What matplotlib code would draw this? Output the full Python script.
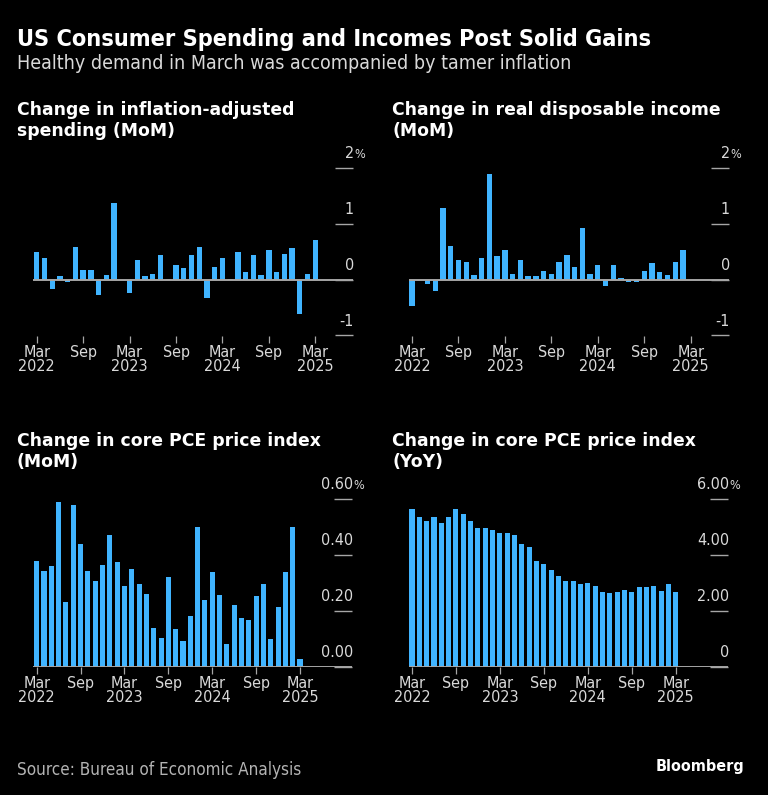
import numpy as np
import matplotlib
matplotlib.use("Agg")
import matplotlib.pyplot as plt

W, H = 768, 795
BAR = "#40b4ff"
AXIS = "#a6a6a6"
TEXT = "#d9d9d9"
NARROW = "condensed"

tick_pos = [0, 6, 12, 18, 24, 30, 36]
tick_labels = ["Mar\n2022", "Sep", "Mar\n2023", "Sep", "Mar\n2024", "Sep", "Mar\n2025"]

spending = [0.49, 0.39, -0.17, 0.07, -0.04, 0.58, 0.18, 0.17, -0.28, 0.08, 1.37, -0.01,
            -0.23, 0.35, 0.07, 0.11, 0.45, 0.02, 0.26, 0.21, 0.44, 0.58, -0.32, 0.23,
            0.39, 0.005, 0.50, 0.14, 0.44, 0.08, 0.53, 0.14, 0.46, 0.57, -0.61, 0.11, 0.71]
income = [-0.48, -0.01, -0.08, -0.20, 1.28, 0.60, 0.36, 0.32, 0.08, 0.38, 1.89, 0.43,
          0.53, 0.10, 0.35, 0.06, 0.07, 0.15, 0.10, 0.31, 0.45, 0.23, 0.93, 0.10,
          0.26, -0.12, 0.27, 0.03, -0.05, -0.05, 0.15, 0.29, 0.14, 0.08, 0.32, 0.54, np.nan]
core_mom = [0.378, 0.342, 0.361, 0.588, 0.230, 0.577, 0.440, 0.342, 0.305, 0.365, 0.471, 0.373,
            0.290, 0.348, 0.295, 0.259, 0.138, 0.103, 0.321, 0.134, 0.091, 0.183, 0.500, 0.240,
            0.339, 0.255, 0.081, 0.222, 0.173, 0.167, 0.252, 0.295, 0.098, 0.215, 0.339, 0.500, 0.029]
core_yoy = [5.65, 5.37, 5.20, 5.34, 5.13, 5.37, 5.63, 5.48, 5.23, 4.98, 4.96, 4.88,
            4.80, 4.80, 4.72, 4.38, 4.28, 3.79, 3.66, 3.45, 3.23, 3.05, 3.06, 2.95,
            2.98, 2.90, 2.67, 2.64, 2.67, 2.74, 2.67, 2.84, 2.84, 2.87, 2.71, 2.97, 2.66]

spend_ticks = [-1, 0, 1, 2]
spend_labels = ["-1", "0", "1", "2"]
mom_ticks = [0, 0.2, 0.4, 0.6]
mom_labels = ["0.00", "0.20", "0.40", "0.60"]
yoy_ticks = [0, 2, 4, 6]
yoy_labels = ["0", "2.00", "4.00", "6.00"]

plt.rcParams["font.family"] = "DejaVu Sans"
fig = plt.figure(figsize=(W / 100, H / 100), dpi=100, facecolor="black")


def px(size):
    # pixel size to points at 100 dpi
    return size * 0.72


def panel(values, title, ticks, labels, left, right, top, bottom, first, last, title_x, title_y):
    ax = fig.add_axes([left / W, 1 - bottom / H, (right - left) / W, (bottom - top) / H])
    ax.set_facecolor("black")
    step = (last - first) / 36
    ax.bar(range(len(values)), values, width=0.69, color=BAR, linewidth=0)
    ax.set_xlim((left - first) / step, (right - first) / step)
    ax.set_ylim(ticks[0], ticks[-1])
    ax.axhline(0, color=AXIS, lw=1.4, zorder=3)
    for s in ax.spines.values():
        s.set_visible(False)
    ax.set_xticks(tick_pos)
    ax.set_xticklabels(tick_labels, fontsize=px(16), color=TEXT, linespacing=0.9,
                       fontstretch=NARROW)
    ax.tick_params(axis="x", length=px(6.5), width=0.9, color=AXIS, pad=px(3))
    ax.yaxis.tick_right()
    ax.set_yticks(ticks)
    ax.set_yticklabels([])
    ax.tick_params(axis="y", direction="in", length=px(18), width=1.0, color=AXIS)
    for v, lab in zip(ticks, labels):
        ax.annotate(lab, xy=(1, v), xycoords=("axes fraction", "data"), xytext=(px(1), px(9.7)),
                    textcoords="offset points", ha="right", va="baseline",
                    fontsize=px(16), color=TEXT, fontstretch=NARROW)
    ax.annotate("%", xy=(1, ticks[-1]), xycoords=("axes fraction", "data"), xytext=(px(1), px(9.7)),
                textcoords="offset points", ha="left", va="baseline", annotation_clip=False,
                fontsize=px(12.5), color=TEXT, fontstretch=NARROW)
    fig.text(title_x / W, 1 - title_y / H, title, fontsize=px(17.3), fontweight="bold",
             color="white", va="top", linespacing=1.2)
    return ax


panel(spending, "Change in inflation-adjusted\nspending (MoM)", spend_ticks, spend_labels,
      33, 353, 168, 335.5, 36.7, 315.3, 17, 101)
panel(income, "Change in real disposable income\n(MoM)", spend_ticks, spend_labels,
      409, 729, 168, 335.5, 412, 690.7, 392, 101)
panel(core_mom, "Change in core PCE price index\n(MoM)", mom_ticks, mom_labels,
      33, 352, 499, 666.7, 36.7, 300, 17, 432)
panel(core_yoy, "Change in core PCE price index\n(YoY)", yoy_ticks, yoy_labels,
      409, 728, 499, 666.7, 412, 675.7, 392, 432)

fig.text(17 / W, 1 - 28 / H, "US Consumer Spending and Incomes Post Solid Gains",
         fontsize=px(23.4), fontweight="bold", color="white", va="top", fontstretch=NARROW)
fig.text(17 / W, 1 - 54 / H, "Healthy demand in March was accompanied by tamer inflation",
         fontsize=px(19.5), color=TEXT, va="top", fontstretch=NARROW)
fig.text(17 / W, 1 - 761 / H, "Source: Bureau of Economic Analysis",
         fontsize=px(17), color="#b3b3b3", va="top", fontstretch=NARROW)
fig.text(744 / W, 1 - 759 / H, "Bloomberg", fontsize=px(16), fontweight="bold",
         color="white", va="top", ha="right", fontstretch=NARROW)

fig.savefig("out.png", dpi=100, facecolor="black")
